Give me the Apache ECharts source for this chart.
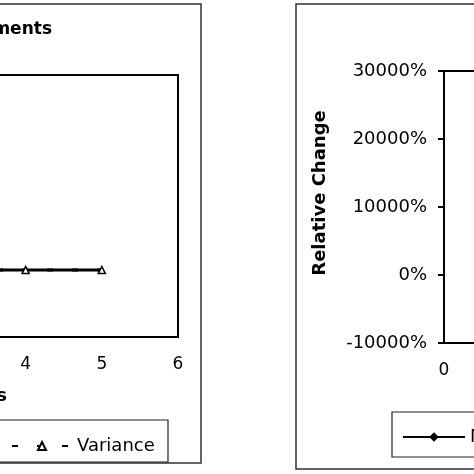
<!DOCTYPE html>
<html>
<head>
<meta charset="utf-8">
<script src="https://cdn.jsdelivr.net/npm/echarts@6/dist/echarts.min.js"></script>
<style>
  html, body { margin: 0; padding: 0; background: #fff; }
  #chart { width: 474px; height: 474px; }
</style>
</head>
<body>
<div id="chart"></div>
<script>
// x positions of the runs
const xValues = [1, 2, 3, 4, 5];
// left panel (Moments): both series sit just above 0%
const meanLeft = [230, 230, 230, 230, 230];
const varianceLeft = [230, 230, 230, 230, 230];
// right panel: relative change of the mean (points fall outside the crop)
const meanRight = [400, 1800, 6500, 14000, 26000];
const yTicks = [-10000, 0, 10000, 20000, 30000];

const FONT = '"DejaVu Sans", sans-serif';
const INK = '#000';

const pairs = (ys) => xValues.map((x, i) => [x, ys[i]]);

const chart = echarts.init(document.getElementById('chart'));

const baseX = {
  type: 'value', min: 0, max: 6, interval: 1,
  axisLine: { onZero: false, lineStyle: { color: INK, width: 2 } },
  axisTick: { show: false },
  splitLine: { show: false },
  axisLabel: { color: INK, fontFamily: FONT, fontSize: 17, margin: 19 }
};
const baseY = {
  type: 'value', min: yTicks[0], max: yTicks[yTicks.length - 1], interval: 10000,
  axisLine: { show: true, onZero: false, lineStyle: { color: INK, width: 2 } },
  axisTick: { show: true, length: 6, lineStyle: { color: INK, width: 2 } },
  splitLine: { show: false },
  axisLabel: { color: INK, fontFamily: FONT, fontSize: 18, margin: 17, formatter: (v) => v + '%' }
};

const option = {
  backgroundColor: '#fff',
  animation: false,
  grid: [
    { left: -279, top: 75, width: 457, height: 262, show: true, borderColor: INK, borderWidth: 2,
      containLabel: false, outerBoundsMode: 'none' },
    { left: 444, top: 71, width: 457, height: 272, show: true, borderColor: INK, borderWidth: 2,
      containLabel: false, outerBoundsMode: 'none' }
  ],
  xAxis: [
    Object.assign({ gridIndex: 0 }, baseX),
    Object.assign({ gridIndex: 1 }, baseX)
  ],
  yAxis: [
    Object.assign({ gridIndex: 0 }, baseY),
    Object.assign({ gridIndex: 1 }, baseY)
  ],
  legend: [
    {
      data: ['Variance'], left: 6, top: 432, itemWidth: 60, itemHeight: 10,
      selectedMode: false,
      textStyle: { color: INK, fontFamily: FONT, fontSize: 18 }
    },
    {
      data: ['Mean'], left: 397, top: 423, itemWidth: 62, itemHeight: 12,
      selectedMode: false,
      textStyle: { color: INK, fontFamily: FONT, fontSize: 18 }
    }
  ],
  series: [
    {
      name: 'Mean estimate', type: 'line', xAxisIndex: 0, yAxisIndex: 0,
      data: pairs(meanLeft), symbol: 'none',
      lineStyle: { color: INK, width: 3 }
    },
    {
      name: 'Variance', type: 'line', xAxisIndex: 0, yAxisIndex: 0,
      data: pairs(varianceLeft), symbol: 'triangle', symbolSize: 7,
      itemStyle: { color: '#fff', borderColor: INK, borderWidth: 1.5 },
      lineStyle: { color: INK, width: 3, type: [6, 19] }
    },
    {
      name: 'Mean', type: 'line', xAxisIndex: 1, yAxisIndex: 1,
      data: pairs(meanRight), symbol: 'diamond', symbolSize: 10,
      itemStyle: { color: INK },
      lineStyle: { color: INK, width: 3 }
    }
  ],
  graphic: [
    // outer chart frames
    { type: 'rect', shape: { x: -10, y: 4, width: 211, height: 459 },
      style: { fill: 'transparent', stroke: '#333', lineWidth: 1.5 } },
    { type: 'rect', shape: { x: 296, y: 4, width: 300, height: 465 },
      style: { fill: 'transparent', stroke: '#333', lineWidth: 1.5 } },
    // legend boxes
    { type: 'rect', shape: { x: -10, y: 420, width: 178, height: 42 },
      style: { fill: 'transparent', stroke: '#222', lineWidth: 1.2 } },
    { type: 'rect', shape: { x: 392, y: 412, width: 200, height: 45 },
      style: { fill: 'transparent', stroke: '#222', lineWidth: 1.2 } },
    // titles / axis names
    { type: 'text', x: 52, y: 30,
      style: { text: 'Moments', fill: INK, font: 'bold 17px ' + FONT, textAlign: 'right', textVerticalAlign: 'middle' } },
    { type: 'text', x: 7, y: 396,
      style: { text: 'Iterations', fill: INK, font: 'bold 18px ' + FONT, textAlign: 'right', textVerticalAlign: 'middle' } },
    { type: 'text', x: 320, y: 193, rotation: Math.PI / 2,
      style: { text: 'Relative Change', fill: INK, font: 'bold 18px ' + FONT, textAlign: 'center', textVerticalAlign: 'middle' } }
  ]
};

chart.setOption(option);
</script>
</body>
</html>
